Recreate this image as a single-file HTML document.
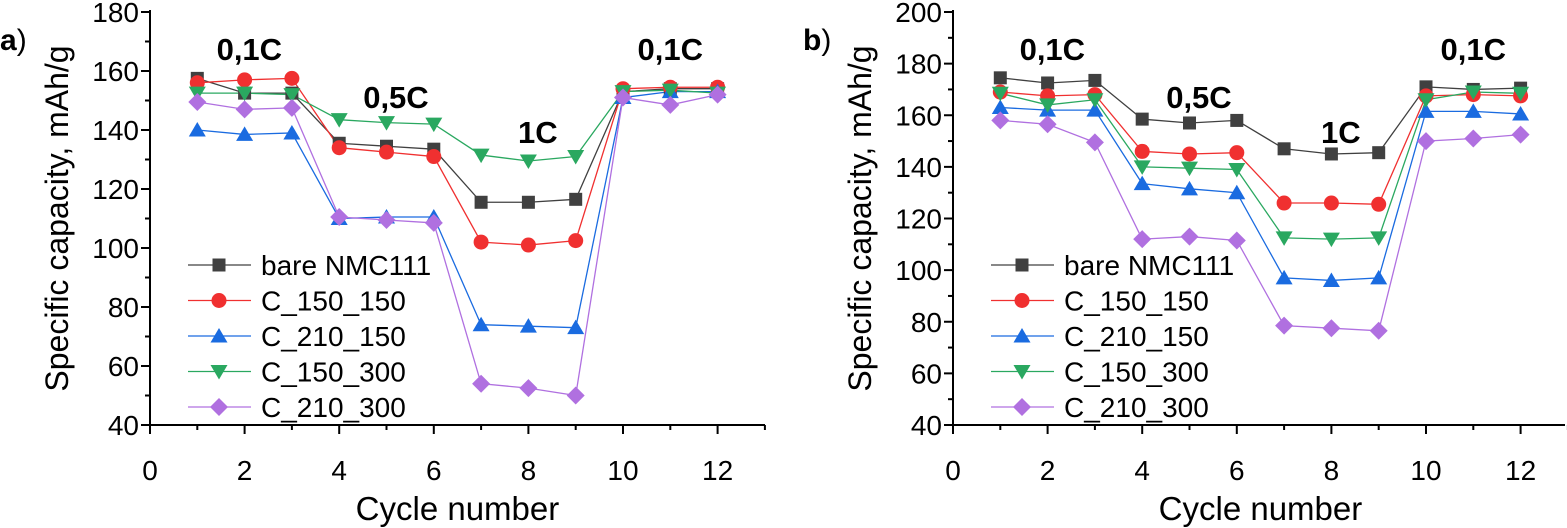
<!DOCTYPE html>
<html><head><meta charset="utf-8"><style>
html,body{margin:0;padding:0;background:#fff}
svg{display:block;font-family:"Liberation Sans",Arial,sans-serif}
</style></head><body>
<svg id="s" width="1567" height="528" xmlns="http://www.w3.org/2000/svg"></svg>
<script>
const s=document.getElementById('s');let h='';
const colors=['#404040','#f03030','#1a6be0','#2aa860','#b070e0'];
const names=['bare NMC111','C_150_150','C_210_150','C_150_300','C_210_300'];
function marker(i,x,y){
 const c=colors[i];
 if(i==0)return `<rect x="${x-6.5}" y="${y-6.5}" width="13" height="13" fill="${c}"/>`;
 if(i==1)return `<circle cx="${x}" cy="${y}" r="7.5" fill="${c}"/>`;
 if(i==2)return `<polygon points="${x},${y-8} ${x-8.5},${y+6.5} ${x+8.5},${y+6.5}" fill="${c}"/>`;
 if(i==3)return `<polygon points="${x},${y+8} ${x-8.5},${y-6.5} ${x+8.5},${y-6.5}" fill="${c}"/>`;
 return `<polygon points="${x},${y-9} ${x+9},${y} ${x},${y+9} ${x-9},${y}" fill="${c}"/>`;
}
function plot(o){
 const X=v=>o.x0+v*o.dx, Y=v=>o.b-(v-o.ymin)*(o.b-o.t)/(o.ymax-o.ymin);
 h+=`<line x1="${o.x0}" y1="${o.t-2}" x2="${o.x0}" y2="${o.b+1}" stroke="#000" stroke-width="2"/>`;
 h+=`<line x1="${o.x0-8}" y1="${o.b}" x2="${o.xe}" y2="${o.b}" stroke="#000" stroke-width="2"/>`;
 for(let v=o.ymin;v<=o.ymax;v+=10){const y=Y(v),maj=(v%20==0);
  h+=`<line x1="${o.x0-(maj?9:5)}" y1="${y}" x2="${o.x0}" y2="${y}" stroke="#000" stroke-width="2"/>`;
  if(maj)h+=`<text x="${o.x0-11}" y="${y+10}" font-size="28" text-anchor="end">${v}</text>`;}
 for(let v=0;v<=13;v++){const x=X(v),maj=(v%2==0);
  h+=`<line x1="${x}" y1="${o.b}" x2="${x}" y2="${o.b+(maj?9:5)}" stroke="#000" stroke-width="2"/>`;
  if(maj)h+=`<text x="${x}" y="${o.b+55}" font-size="28" text-anchor="middle">${v}</text>`;}
 h+=`<text x="${X(6.5)}" y="520" font-size="33" text-anchor="middle">Cycle number</text>`;
 h+=`<text transform="translate(${o.x0-82},${(o.t+o.b)/2}) rotate(-90)" font-size="32" text-anchor="middle">Specific capacity, mAh/g</text>`;
 h+=`<text x="${o.x0-150}" y="50" font-size="30" font-weight="bold">${o.lab}<tspan font-weight="normal">)</tspan></text>`;
 o.d.forEach((d,i)=>{
  h+=`<polyline points="${d.map((v,k)=>X(k+1)+','+Y(v)).join(' ')}" fill="none" stroke="${colors[i]}" stroke-width="1.3"/>`;
 });
 o.d.forEach((d,i)=>{d.forEach((v,k)=>h+=marker(i,X(k+1),Y(v)));});
 names.forEach((n,i)=>{const y=265+i*35.5;
  h+=`<line x1="${o.x0+38}" y1="${y}" x2="${o.x0+101}" y2="${y}" stroke="${colors[i]}" stroke-width="1.3"/>`;
  h+=marker(i,o.x0+69,y);
  h+=`<text x="${o.x0+111}" y="${y+10}" font-size="28">${n}</text>`;});
 [['0,1C',2.1,60],['0,5C',5.2,108],['1C',8.2,143],['0,1C',11,60]].forEach(a=>{
  h+=`<text x="${X(a[1])}" y="${a[2]}" font-size="31" font-weight="bold" text-anchor="middle">${a[0]}</text>`;});
}
plot({x0:150,dx:47.3,xe:765,t:12,b:425,ymin:40,ymax:180,lab:'a',d:[
[157.5,152.5,152.5,135.5,134.5,133.5,115.5,115.5,116.5,153,154,154],
[156,157,157.5,134,132.5,131,102,101,102.5,154,154.5,154.5],
[140,138.5,139,110,110.5,110.5,74,73.5,73,151,153,153],
[152.5,152.5,152,143.5,142.5,142,131.5,129.5,131,153,153.5,152.5],
[149.5,147,147.5,110.5,109.5,108.5,54,52.5,50,151,148.5,152]]});
plot({x0:953,dx:47.3,xe:1565,t:12,b:425,ymin:40,ymax:200,lab:'b',d:[
[174.5,172.5,173.5,158.5,157,158,147,145,145.5,171,170,170.5],
[169,167.5,168,146,145,145.5,126,126,125.5,167.5,168,167.5],
[163,162,162,133.5,131.5,130,97,96,97,161.5,161.5,160.5],
[168.5,164,166,140,139.5,139,112.5,112,112.5,166,169,168.5],
[158,156.5,149.5,112,113,111.5,78.5,77.5,76.5,150,151,152.5]]});
s.innerHTML=h;
</script>
</body></html>
